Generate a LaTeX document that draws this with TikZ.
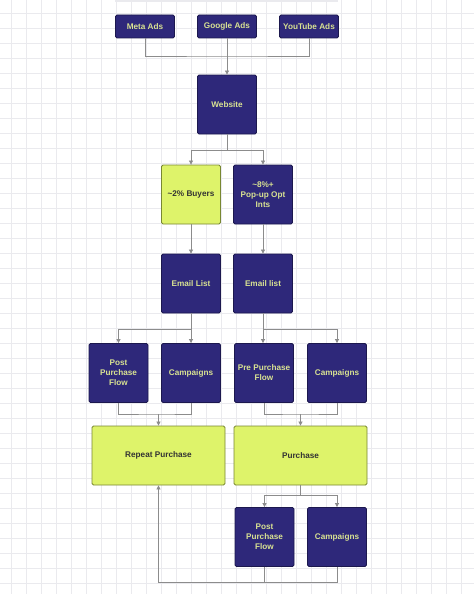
\documentclass[tikz,border=0pt]{standalone}
\usepackage{fontspec}
\setmainfont{Liberation Sans}
\usetikzlibrary{arrows.meta}

\definecolor{navyfill}{RGB}{46,40,122}
\definecolor{navyline}{RGB}{28,24,78}
\definecolor{navytext}{RGB}{216,226,146}
\definecolor{limefill}{RGB}{222,243,106}
\definecolor{limeline}{RGB}{120,135,50}
\definecolor{gridgray}{RGB}{234,234,238}
\definecolor{conngray}{RGB}{140,140,140}

\tikzset{
    box/.style={rectangle, rounded corners=1.5pt, line width=0.8pt, align=center,
        font=\bfseries\fontsize{8.2}{10}\selectfont, inner sep=1pt},
    navybox/.style={box, draw=navyline, fill=navyfill, text=navytext,
        minimum width=59pt, minimum height=59pt},
    adbox/.style={navybox, minimum height=23pt},
    limebox/.style={box, draw=limeline, fill=limefill, text=black!80,
        minimum width=59pt, minimum height=59pt},
    widebox/.style={limebox, minimum width=133pt},
    line/.style={draw=conngray, line width=0.7pt},
    arr/.style={line, -{Triangle[width=4pt,length=4pt]}}
}

\begin{document}
\begin{tikzpicture}[x=1pt, y=-1pt]
    \useasboundingbox (0,0) rectangle (474,594);
    \fill[white] (0,0) rectangle (474,594);
    % background grid
    \foreach \x in {11,26,...,474} {
        \draw[gridgray, line width=0.5pt] (\x,0) -- (\x,594);
    }
    \foreach \y in {13,28,...,594} {
        \draw[gridgray, line width=0.5pt] (0,\y) -- (474,\y);
    }
    \fill[gridgray] (115,0) rectangle (338,2);

    % ad sources
    \foreach \name/\x/\label in {meta/145/Meta Ads, google/227/Google Ads, youtube/309/YouTube Ads} {
        \node[adbox] (\name) at (\x,26.5) {\label};
    }
    \node[navybox] (website) at (227,104.5) {Website};

    \node[limebox] (buyers) at (191,194.5) {\textasciitilde2\% Buyers};
    \node[navybox] (optin) at (263,194.5) {\textasciitilde8\%+\\Pop-up Opt\\Ints};

    \node[navybox] (emailA) at (191,283.5) {Email List};
    \node[navybox] (emailB) at (263,283.5) {Email list};

    \node[navybox] (ppfA) at (118.5,373) {Post\\Purchase\\Flow};
    \node[navybox] (campA) at (191,373) {Campaigns};
    \node[navybox] (preB) at (264,373) {Pre Purchase\\Flow};
    \node[navybox] (campB) at (337,373) {Campaigns};

    \node[widebox] (repeat) at (158.5,455.5) {Repeat Purchase};
    \node[widebox] (purchase) at (300.5,455.5) {Purchase};

    \node[navybox] (ppfC) at (264.5,537) {Post\\Purchase\\Flow};
    \node[navybox] (campC) at (337,537) {Campaigns};

    % junctions
    \coordinate (j1) at (227,56);
    \coordinate (j2) at (227,150);
    \coordinate (j3) at (191,329);
    \coordinate (j4) at (263,329);
    \coordinate (j5) at (158.5,414);
    \coordinate (j6) at (300.5,414);
    \coordinate (j7) at (300.5,495);
    \coordinate (j8) at (158.5,582);

    % connectors
    \draw[line] (meta.south) |- (j1) -| (youtube.south);
    \draw[arr] (google.south) -- (website.north);

    \draw[line] (website.south) -- (j2);
    \draw[arr] (j2) -| (buyers.north);
    \draw[arr] (j2) -| (optin.north);

    \draw[arr] (buyers.south) -- (emailA.north);
    \draw[arr] (optin.south) -- (emailB.north);

    \draw[arr] (emailA.south) -- (campA.north);
    \draw[arr] (j3) -| (ppfA.north);
    \draw[arr] (emailB.south) -- (preB.north -| emailB.south);
    \draw[arr] (j4) -| (campB.north);

    \draw[line] (ppfA.south) |- (j5) -| (campA.south);
    \draw[arr] (j5) -- (repeat.north);
    \draw[line] (preB.south) |- (j6) -| (campB.south);
    \draw[arr] (j6) -- (purchase.north);

    \draw[line] (purchase.south) -- (j7);
    \draw[arr] (j7) -| (ppfC.north);
    \draw[arr] (j7) -| (campC.north);

    \draw[line] (ppfC.south) -- (ppfC.south |- j8);
    \draw[arr] (campC.south) |- (j8) -- (repeat.south);
\end{tikzpicture}
\end{document}
